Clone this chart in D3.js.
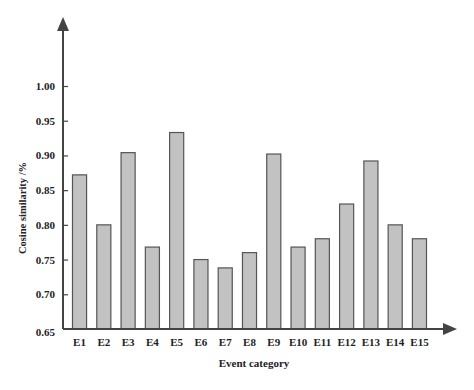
<!DOCTYPE html>
<html>
<head>
<meta charset="utf-8">
<script src="https://cdn.jsdelivr.net/npm/d3@7"></script>
<style>
  body { margin: 0; background: #fff; }
  text { font-family: "Liberation Serif", "DejaVu Serif", serif; font-weight: bold; fill: #222; }
</style>
</head>
<body>
<div id="main-container"></div>
<script>
// DATA
const categories = ["E1","E2","E3","E4","E5","E6","E7","E8","E9","E10","E11","E12","E13","E14","E15"];
const similarity = [0.872, 0.800, 0.904, 0.768, 0.933, 0.750, 0.738, 0.760, 0.902, 0.768, 0.780, 0.830, 0.892, 0.800, 0.780];
const yTicks = [0.65, 0.70, 0.75, 0.80, 0.85, 0.90, 0.95, 1.00];

const width = 474, height = 390;
const axisColour = "#444";

let svg = d3.select("#main-container")
    .append("svg")
        .attr("width", width)
        .attr("height", height);

let xAxis = d3.scaleBand()
    .domain(categories)
    .range([64, 435])
    .paddingInner(0.42)
    .paddingOuter(0.35);

let yAxis = d3.scaleLinear()
    .domain([0.65, 1.00])
    .range([329, 86]);

// bars
svg.selectAll("bars")
    .data(categories)
    .enter()
    .append("rect")
        .attr("x", (d) => { return xAxis(d); })
        .attr("y", (d, i) => { return yAxis(similarity[i]); })
        .attr("width", xAxis.bandwidth())
        .attr("height", (d, i) => { return yAxis(0.65) - yAxis(similarity[i]); })
        .attr("fill", "#c2c2c2")
        .attr("stroke", "#555")
        .attr("stroke-width", 1.2);

// y axis with inward ticks
let gy = svg.append("g")
    .attr("id", "y-axis")
    .attr("transform", "translate(63, 0)")
    .call(d3.axisRight(yAxis).tickValues(yTicks).tickFormat(d3.format(".2f")).tickSize(5));
gy.select(".domain").remove();
gy.selectAll("line").attr("stroke", axisColour).attr("stroke-width", 1.2);
gy.selectAll("text")
    .attr("x", -8)
    .attr("text-anchor", "end")
    .style("font-size", "11px");
gy.selectAll(".tick").filter((d) => d === 0.65).select("text").attr("dy", "0.6em");
gy.selectAll(".tick").filter((d) => d === 0.65).select("line").remove();

// axis lines with arrows
svg.append("line")
    .attr("x1", 63).attr("y1", 329).attr("x2", 63).attr("y2", 28)
    .attr("stroke", axisColour).attr("stroke-width", 2);
svg.append("path")
    .attr("d", "M57,31 L63,17 L69,31 Z")
    .attr("fill", axisColour);

svg.append("line")
    .attr("x1", 63).attr("y1", 329).attr("x2", 445).attr("y2", 329)
    .attr("stroke", axisColour).attr("stroke-width", 2);
svg.append("path")
    .attr("d", "M443,323 L457,329 L443,335 Z")
    .attr("fill", axisColour);

// x labels
let gx = svg.append("g")
    .attr("id", "x-axis")
    .attr("transform", "translate(0, 329)")
    .call(d3.axisBottom(xAxis).tickSize(0).tickPadding(9));
gx.select(".domain").remove();
gx.selectAll("text").style("font-size", "11px");

// titles
svg.append("text")
    .attr("x", 254)
    .attr("y", 367)
    .attr("text-anchor", "middle")
    .style("font-size", "11px")
    .text("Event category");

svg.append("text")
    .attr("transform", "translate(26, 208) rotate(-90)")
    .attr("text-anchor", "middle")
    .style("font-size", "10.5px")
    .text("Cosine similarity /%");
</script>
</body>
</html>
